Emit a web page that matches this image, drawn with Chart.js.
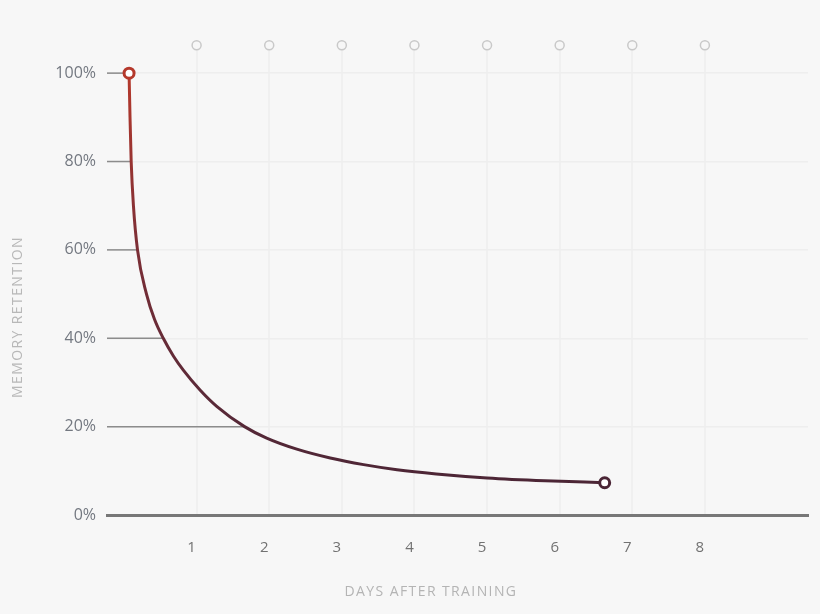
<!DOCTYPE html>
<html>
<head>
<meta charset="utf-8">
<title>Memory retention</title>
<script src="https://cdn.jsdelivr.net/npm/chart.js@4"></script>
<style>
  html, body { margin: 0; padding: 0; background: #f7f7f7; }
  #wrap { width: 820px; height: 614px; }
</style>
</head>
<body>
<div id="wrap"><canvas id="myChart"></canvas></div>
<script>
// forgetting curve
const days = [0.07, 0.083, 0.099, 0.13, 0.186, 0.31, 0.42, 0.541, 0.68, 0.817, 1.047, 1.277, 1.66, 1.965, 2.38, 2.84, 3.3, 3.76, 4.3, 5.0, 5.8, 6.62];
const retention = [100, 90, 80, 70, 60, 50, 44.3, 40, 36.0, 32.8, 28.3, 24.6, 20, 17.4, 14.9, 12.9, 11.4, 10.25, 9.3, 8.4, 7.75, 7.3];

const xTicks = [1, 2, 3, 4, 5, 6, 7, 8];
const yTicks = [0, 20, 40, 60, 80, 100];
const markerLevel = 106.3; // row of small circles above the plot

const xTitle = 'DAYS AFTER TRAINING';
const yTitle = 'MEMORY RETENTION';

const xMin = -0.234, xMax = 9.42;
const yMax = 107.5;

// where the curve crosses a level (linear between read points)
function crossAt(level) {
  for (let i = 0; i < retention.length - 1; i++) {
    const a = retention[i], b = retention[i + 1];
    if (a >= level && level >= b) {
      return days[i] + (a - level) / (a - b) * (days[i + 1] - days[i]);
    }
  }
  return null;
}

const curve = days.map((d, i) => ({ x: d, y: retention[i] }));
const lastIdx = curve.length - 1;

const tickSegments = yTicks.filter(v => v > 0).map(v => ({
  type: 'line',
  data: [{ x: xMin, y: v }, { x: crossAt(v), y: v }],
  borderColor: '#8c8c8c',
  borderWidth: 1.5,
  pointRadius: 0,
  order: 2,
}));

function curveGradient(context) {
  const { chart } = context;
  if (!chart.chartArea) return '#7a2f35';
  const y = chart.scales.y;
  const g = chart.ctx.createLinearGradient(0, y.getPixelForValue(100), 0, y.getPixelForValue(5));
  g.addColorStop(0, '#b5392c');
  g.addColorStop(0.4, '#7e2f36');
  g.addColorStop(0.75, '#5c2a38');
  g.addColorStop(1, '#4a2535');
  return g;
}

// axis titles with letter spacing
const axisTitles = {
  id: 'axisTitles',
  afterDraw(chart) {
    const { ctx, chartArea } = chart;
    ctx.save();
    ctx.font = '14px "Open Sans"';
    ctx.letterSpacing = '1.4px';
    ctx.textAlign = 'center';
    ctx.textBaseline = 'middle';
    ctx.fillStyle = '#b4b4b4';
    ctx.fillText(xTitle, chartArea.left + 324, chartArea.bottom + 77);
    ctx.translate(18, chartArea.bottom - 198);
    ctx.rotate(-Math.PI / 2);
    ctx.fillStyle = '#b8b8b8';
    ctx.fillText(yTitle, 0, 0);
    ctx.restore();
  },
};

const config = {
  type: 'line',
  data: {
    datasets: [
      {
        label: 'Retention',
        data: curve,
        borderColor: curveGradient,
        borderWidth: 3,
        cubicInterpolationMode: 'monotone',
        pointRadius: ctx => (ctx.dataIndex === 0 || ctx.dataIndex === lastIdx) ? 5 : 0,
        pointBorderWidth: 3,
        pointBorderColor: ctx => ctx.dataIndex === 0 ? '#b5392c' : '#4a2535',
        pointBackgroundColor: '#ffffff',
        order: 0,
        clip: false,
      },
      ...tickSegments,
      {
        type: 'scatter',
        data: xTicks.map(v => ({ x: v, y: markerLevel })),
        pointRadius: 4.5,
        pointBorderWidth: 1.5,
        pointBorderColor: '#c9c9c9',
        pointBackgroundColor: '#f7f7f7',
        order: 1,
        clip: false,
      },
    ],
  },
  options: {
    responsive: true,
    maintainAspectRatio: false,
    animation: false,
    layout: { padding: { top: 40, right: 12, left: 0, bottom: 0 } },
    plugins: {
      legend: { display: false },
      tooltip: { enabled: false },
    },
    scales: {
      x: {
        type: 'linear',
        min: xMin,
        max: xMax,
        afterBuildTicks: s => { s.ticks = xTicks.map(v => ({ value: v })); },
        afterFit: s => { s.height = 99; },
        grid: { color: '#f0f0f0', lineWidth: 2, drawTicks: false },
        border: { color: '#777777', width: 3 },
        ticks: {
          padding: 24,
          labelOffset: -5,
          color: '#727272',
          font: { family: 'Open Sans', size: 15 },
        },
        title: { display: false },
      },
      y: {
        min: 0,
        max: yMax,
        afterBuildTicks: s => { s.ticks = yTicks.map(v => ({ value: v })); },
        afterFit: s => { s.width = 107; },
        grid: { color: '#eeeeee', lineWidth: 1.5, drawTicks: false },
        border: { display: false },
        ticks: {
          padding: 11,
          color: '#737880',
          font: { family: 'Open Sans', size: 16 },
          callback: v => v + '%',
        },
        title: { display: false },
      },
    },
  },
  plugins: [axisTitles],
};

const myChart = new Chart(document.getElementById('myChart'), config);
</script>
</body>
</html>
